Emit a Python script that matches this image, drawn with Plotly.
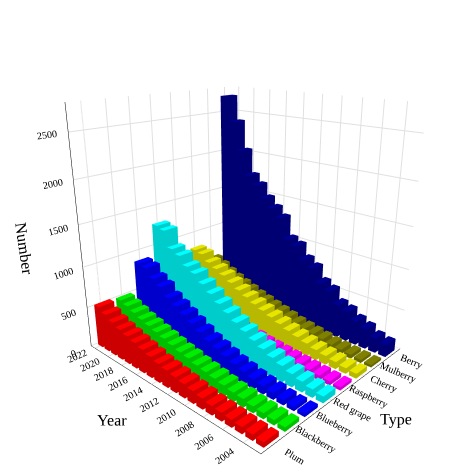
import plotly.graph_objects as go
import numpy as np

years = list(range(2003, 2023))
types = ["Plum", "Blackberry", "Blueberry", "Red grape", "Raspberry", "Cherry", "Mulberry", "Berry"]
colors = ["#ff0000", "#00ee00", "#0000ff", "#00ffff", "#ff00ff", "#e6e600", "#808000", "#000090"]

plum = [60, 70, 80, 90, 100, 110, 130, 150, 170, 190, 210, 230, 260, 290, 320, 350, 380, 420, 470, 520]
blackberry = [50, 60, 70, 80, 100, 110, 130, 150, 170, 190, 220, 240, 270, 300, 330, 360, 390, 430, 470, 500]
blueberry = [40, 50, 60, 80, 100, 120, 150, 180, 220, 260, 300, 360, 420, 480, 540, 600, 700, 760, 860, 880]
red_grape = [80, 100, 130, 160, 200, 240, 290, 340, 400, 460, 530, 600, 680, 760, 850, 900, 1000, 1050, 1250, 1280]
raspberry = [40, 50, 60, 70, 80, 90, 100, 110, 120, 140, 150, 170, 190, 210, 230, 250, 280, 300, 330, 350]
cherry = [60, 70, 90, 110, 130, 160, 190, 220, 260, 300, 340, 380, 430, 480, 540, 600, 650, 700, 780, 800]
mulberry = [30, 40, 50, 60, 70, 90, 110, 130, 150, 180, 210, 240, 270, 300, 340, 380, 420, 470, 530, 580]
berry = [150, 180, 250, 300, 380, 420, 560, 620, 780, 850, 1000, 1050, 1300, 1400, 1500, 1650, 1750, 2050, 2400, 2700]
series = [plum, blackberry, blueberry, red_grape, raspberry, cherry, mulberry, berry]

fig = go.Figure()
w = 0.35
for ti, (vals, col) in enumerate(zip(series, colors)):
    X, Y, Z, I, J, K = [], [], [], [], [], []
    for yi, v in enumerate(vals):
        x0, x1 = ti - w, ti + w
        y0, y1 = years[yi] - w, years[yi] + w
        b = len(X)
        for zz in (0, v):
            for (xx, yy) in ((x0, y0), (x1, y0), (x1, y1), (x0, y1)):
                X.append(xx); Y.append(yy); Z.append(zz)
        faces = [(0,1,2),(0,2,3),(4,5,6),(4,6,7),(0,1,5),(0,5,4),(1,2,6),(1,6,5),
                 (2,3,7),(2,7,6),(3,0,4),(3,4,7)]
        for f in faces:
            I.append(b+f[0]); J.append(b+f[1]); K.append(b+f[2])
    fig.add_trace(go.Mesh3d(x=X, y=Y, z=Z, i=I, j=J, k=K, color=col, flatshading=True,
                            lighting=dict(ambient=0.8, diffuse=0.4, specular=0.1),
                            lightposition=dict(x=-1000, y=-2000, z=3000),
                            showscale=False, hoverinfo="skip"))

fig.update_layout(
    width=474, height=474, margin=dict(l=0, r=0, t=0, b=0),
    paper_bgcolor="white", showlegend=False, font=dict(family="Liberation Serif", size=11, color="black"),
    scene=dict(
        xaxis=dict(title=dict(text="Type", font=dict(size=16, family="Liberation Serif")),
                   tickvals=list(range(8)), ticktext=types, range=[-0.6, 7.6],
                   showbackground=False, gridcolor="#e0e0e0", showline=True, linecolor="black"),
        yaxis=dict(title=dict(text="Year", font=dict(size=16, family="Liberation Serif")),
                   tickvals=list(range(2004, 2023, 2)), range=[2002.4, 2022.6],
                   showbackground=False, gridcolor="#e0e0e0", showline=True, linecolor="black"),
        zaxis=dict(title=dict(text="Number", font=dict(size=16, family="Liberation Serif")),
                   tickvals=[0, 500, 1000, 1500, 2000, 2500], range=[0, 2800],
                   showbackground=False, gridcolor="#e0e0e0", showline=True, linecolor="black"),
        aspectmode="manual", aspectratio=dict(x=1, y=1.1, z=1.15),
        camera=dict(eye=dict(x=-1.75, y=-1.65, z=0.85), center=dict(x=0, y=0, z=-0.05)),
    ),
)
fig.write_html("out.html")
